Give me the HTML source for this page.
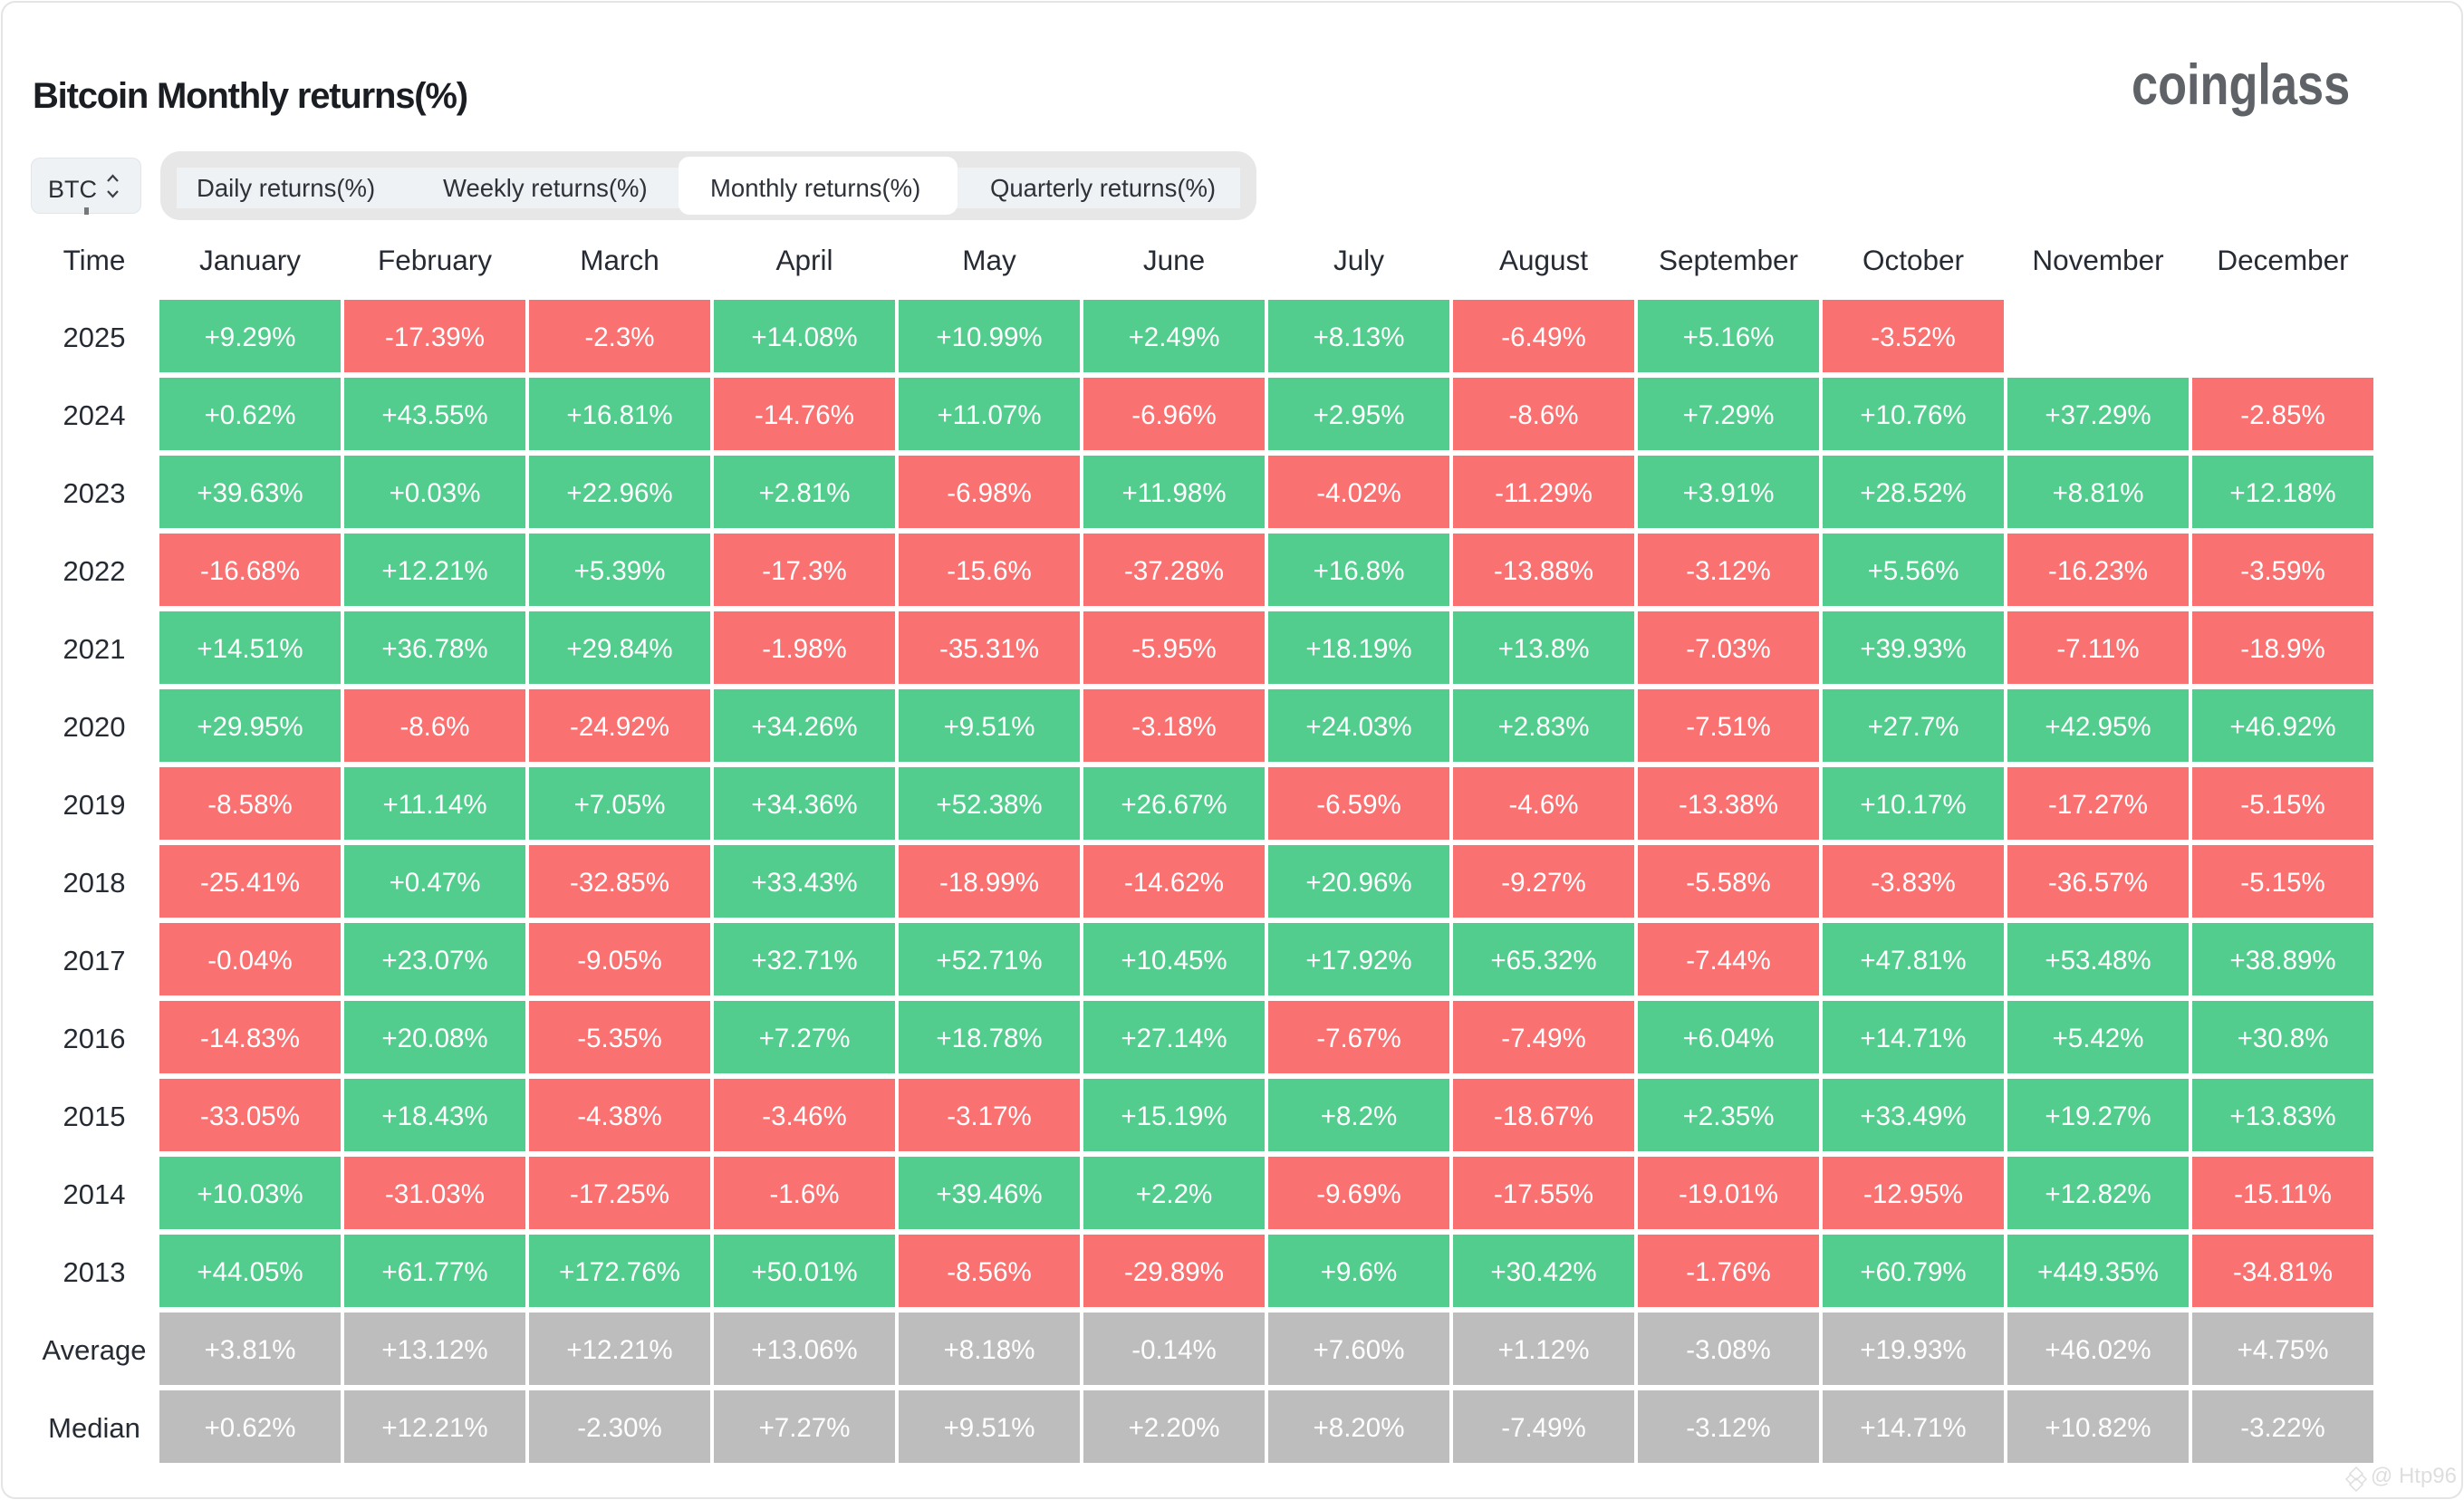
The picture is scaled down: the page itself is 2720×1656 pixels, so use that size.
<!DOCTYPE html>
<html>
<head>
<meta charset="utf-8">
<style>
  html,body{margin:0;padding:0;background:#fff;}
  body{width:2720px;height:1656px;position:relative;overflow:hidden;font-family:"Liberation Sans",sans-serif;}
  .card{position:absolute;left:1px;top:1px;width:2714px;height:1650px;border:2px solid #e4e4e4;border-radius:16px;background:#fff;}
  .title{position:absolute;left:36px;top:81px;font-size:40px;line-height:50px;font-weight:bold;color:#1a1d21;letter-spacing:-1.2px;white-space:nowrap;}
  .logo{position:absolute;left:2353px;top:59px;font-size:63px;line-height:70px;font-weight:bold;color:#5f6267;transform:scaleX(0.83);transform-origin:left top;white-space:nowrap;}
  .btc{position:absolute;left:34px;top:174px;width:120px;height:60px;background:#eef2f5;border:1px solid #e2e5e9;border-radius:10px;}
  .btc span{position:absolute;left:18px;top:14px;font-size:27px;line-height:40px;color:#2b2f36;}
  .sq{position:absolute;left:93px;top:229px;width:5px;height:8px;background:#777;}
  .tabs{position:absolute;left:177px;top:167px;width:1210px;height:76px;background:#e7e7e7;border-radius:22px;}
  .band{position:absolute;left:195px;top:185px;width:1174px;height:45px;background:#eef2f5;}
  .active{position:absolute;left:749px;top:173px;width:308px;height:64px;background:#fff;border-radius:12px;}
  .tt{position:absolute;top:188px;font-size:27.5px;line-height:40px;color:#2e3239;white-space:nowrap;}
  .hdr{position:absolute;top:267px;font-size:31.5px;line-height:40px;color:#262b33;text-align:center;white-space:nowrap;}
  .grid{position:absolute;left:176px;top:331px;display:grid;grid-template-columns:repeat(12,200px);column-gap:4px;row-gap:6px;grid-auto-rows:80px;}
  .grid div{height:80px;line-height:84px;text-align:center;color:#fff;font-size:29.5px;white-space:nowrap;}
  .g{background:#52cd8d;}
  .r{background:#fa7172;}
  .n{background:#bdbdbd;}
  .labels{position:absolute;left:32px;top:331px;width:144px;display:grid;grid-auto-rows:80px;row-gap:6px;}
  .labels div{line-height:84px;text-align:center;font-size:31px;color:#262b33;}
  .wm{position:absolute;right:8px;top:1614px;font-size:24px;line-height:32px;color:#dedede;white-space:nowrap;text-align:right;}
</style>
</head>
<body>
<div class="card"></div>
<div class="title">Bitcoin Monthly returns(%)</div>
<div class="logo">coinglass</div>

<div class="btc"><span>BTC</span></div>
<svg style="position:absolute;left:115px;top:190px" width="20" height="32" viewBox="0 0 20 32">
  <polyline points="4,10 9.5,4 15,10" fill="none" stroke="#3a3e45" stroke-width="2.2"/>
  <polyline points="4,21 9.5,27 15,21" fill="none" stroke="#3a3e45" stroke-width="2.2"/>
</svg>
<div class="sq"></div>

<div class="tabs"></div>
<div class="band"></div>
<div class="active"></div>
<div class="tt" style="left:217px">Daily returns(%)</div>
<div class="tt" style="left:489px">Weekly returns(%)</div>
<div class="tt" style="left:784px">Monthly returns(%)</div>
<div class="tt" style="left:1093px">Quarterly returns(%)</div>

<div class="hdr" style="left:32px;width:144px">Time</div>
<div class="hdr" style="left:176px;width:200px">January</div>
<div class="hdr" style="left:380px;width:200px">February</div>
<div class="hdr" style="left:584px;width:200px">March</div>
<div class="hdr" style="left:788px;width:200px">April</div>
<div class="hdr" style="left:992px;width:200px">May</div>
<div class="hdr" style="left:1196px;width:200px">June</div>
<div class="hdr" style="left:1400px;width:200px">July</div>
<div class="hdr" style="left:1604px;width:200px">August</div>
<div class="hdr" style="left:1808px;width:200px">September</div>
<div class="hdr" style="left:2012px;width:200px">October</div>
<div class="hdr" style="left:2216px;width:200px">November</div>
<div class="hdr" style="left:2420px;width:200px">December</div>

<div class="labels">
  <div>2025</div><div>2024</div><div>2023</div><div>2022</div><div>2021</div>
  <div>2020</div><div>2019</div><div>2018</div><div>2017</div><div>2016</div>
  <div>2015</div><div>2014</div><div>2013</div><div>Average</div><div>Median</div>
</div>

<div class="grid">
  <!-- 2025 -->
  <div class="g">+9.29%</div><div class="r">-17.39%</div><div class="r">-2.3%</div><div class="g">+14.08%</div><div class="g">+10.99%</div><div class="g">+2.49%</div><div class="g">+8.13%</div><div class="r">-6.49%</div><div class="g">+5.16%</div><div class="r">-3.52%</div><div></div><div></div>
  <!-- 2024 -->
  <div class="g">+0.62%</div><div class="g">+43.55%</div><div class="g">+16.81%</div><div class="r">-14.76%</div><div class="g">+11.07%</div><div class="r">-6.96%</div><div class="g">+2.95%</div><div class="r">-8.6%</div><div class="g">+7.29%</div><div class="g">+10.76%</div><div class="g">+37.29%</div><div class="r">-2.85%</div>
  <!-- 2023 -->
  <div class="g">+39.63%</div><div class="g">+0.03%</div><div class="g">+22.96%</div><div class="g">+2.81%</div><div class="r">-6.98%</div><div class="g">+11.98%</div><div class="r">-4.02%</div><div class="r">-11.29%</div><div class="g">+3.91%</div><div class="g">+28.52%</div><div class="g">+8.81%</div><div class="g">+12.18%</div>
  <!-- 2022 -->
  <div class="r">-16.68%</div><div class="g">+12.21%</div><div class="g">+5.39%</div><div class="r">-17.3%</div><div class="r">-15.6%</div><div class="r">-37.28%</div><div class="g">+16.8%</div><div class="r">-13.88%</div><div class="r">-3.12%</div><div class="g">+5.56%</div><div class="r">-16.23%</div><div class="r">-3.59%</div>
  <!-- 2021 -->
  <div class="g">+14.51%</div><div class="g">+36.78%</div><div class="g">+29.84%</div><div class="r">-1.98%</div><div class="r">-35.31%</div><div class="r">-5.95%</div><div class="g">+18.19%</div><div class="g">+13.8%</div><div class="r">-7.03%</div><div class="g">+39.93%</div><div class="r">-7.11%</div><div class="r">-18.9%</div>
  <!-- 2020 -->
  <div class="g">+29.95%</div><div class="r">-8.6%</div><div class="r">-24.92%</div><div class="g">+34.26%</div><div class="g">+9.51%</div><div class="r">-3.18%</div><div class="g">+24.03%</div><div class="g">+2.83%</div><div class="r">-7.51%</div><div class="g">+27.7%</div><div class="g">+42.95%</div><div class="g">+46.92%</div>
  <!-- 2019 -->
  <div class="r">-8.58%</div><div class="g">+11.14%</div><div class="g">+7.05%</div><div class="g">+34.36%</div><div class="g">+52.38%</div><div class="g">+26.67%</div><div class="r">-6.59%</div><div class="r">-4.6%</div><div class="r">-13.38%</div><div class="g">+10.17%</div><div class="r">-17.27%</div><div class="r">-5.15%</div>
  <!-- 2018 -->
  <div class="r">-25.41%</div><div class="g">+0.47%</div><div class="r">-32.85%</div><div class="g">+33.43%</div><div class="r">-18.99%</div><div class="r">-14.62%</div><div class="g">+20.96%</div><div class="r">-9.27%</div><div class="r">-5.58%</div><div class="r">-3.83%</div><div class="r">-36.57%</div><div class="r">-5.15%</div>
  <!-- 2017 -->
  <div class="r">-0.04%</div><div class="g">+23.07%</div><div class="r">-9.05%</div><div class="g">+32.71%</div><div class="g">+52.71%</div><div class="g">+10.45%</div><div class="g">+17.92%</div><div class="g">+65.32%</div><div class="r">-7.44%</div><div class="g">+47.81%</div><div class="g">+53.48%</div><div class="g">+38.89%</div>
  <!-- 2016 -->
  <div class="r">-14.83%</div><div class="g">+20.08%</div><div class="r">-5.35%</div><div class="g">+7.27%</div><div class="g">+18.78%</div><div class="g">+27.14%</div><div class="r">-7.67%</div><div class="r">-7.49%</div><div class="g">+6.04%</div><div class="g">+14.71%</div><div class="g">+5.42%</div><div class="g">+30.8%</div>
  <!-- 2015 -->
  <div class="r">-33.05%</div><div class="g">+18.43%</div><div class="r">-4.38%</div><div class="r">-3.46%</div><div class="r">-3.17%</div><div class="g">+15.19%</div><div class="g">+8.2%</div><div class="r">-18.67%</div><div class="g">+2.35%</div><div class="g">+33.49%</div><div class="g">+19.27%</div><div class="g">+13.83%</div>
  <!-- 2014 -->
  <div class="g">+10.03%</div><div class="r">-31.03%</div><div class="r">-17.25%</div><div class="r">-1.6%</div><div class="g">+39.46%</div><div class="g">+2.2%</div><div class="r">-9.69%</div><div class="r">-17.55%</div><div class="r">-19.01%</div><div class="r">-12.95%</div><div class="g">+12.82%</div><div class="r">-15.11%</div>
  <!-- 2013 -->
  <div class="g">+44.05%</div><div class="g">+61.77%</div><div class="g">+172.76%</div><div class="g">+50.01%</div><div class="r">-8.56%</div><div class="r">-29.89%</div><div class="g">+9.6%</div><div class="g">+30.42%</div><div class="r">-1.76%</div><div class="g">+60.79%</div><div class="g">+449.35%</div><div class="r">-34.81%</div>
  <!-- Average -->
  <div class="n">+3.81%</div><div class="n">+13.12%</div><div class="n">+12.21%</div><div class="n">+13.06%</div><div class="n">+8.18%</div><div class="n">-0.14%</div><div class="n">+7.60%</div><div class="n">+1.12%</div><div class="n">-3.08%</div><div class="n">+19.93%</div><div class="n">+46.02%</div><div class="n">+4.75%</div>
  <!-- Median -->
  <div class="n">+0.62%</div><div class="n">+12.21%</div><div class="n">-2.30%</div><div class="n">+7.27%</div><div class="n">+9.51%</div><div class="n">+2.20%</div><div class="n">+8.20%</div><div class="n">-7.49%</div><div class="n">-3.12%</div><div class="n">+14.71%</div><div class="n">+10.82%</div><div class="n">-3.22%</div>
</div>

<svg style="position:absolute;left:2586px;top:1618px" width="30" height="30" viewBox="0 0 30 30">
  <path d="M15 2 L22 9 L15 16 L8 9 Z M4 15 L9 10 L14 15 L9 20 Z M16 15 L21 10 L26 15 L21 20 Z M15 14 L22 21 L15 28 L8 21 Z" fill="none" stroke="#dedede" stroke-width="1.5"/>
</svg>
<div class="wm">@ Htp96</div>
</body>
</html>
